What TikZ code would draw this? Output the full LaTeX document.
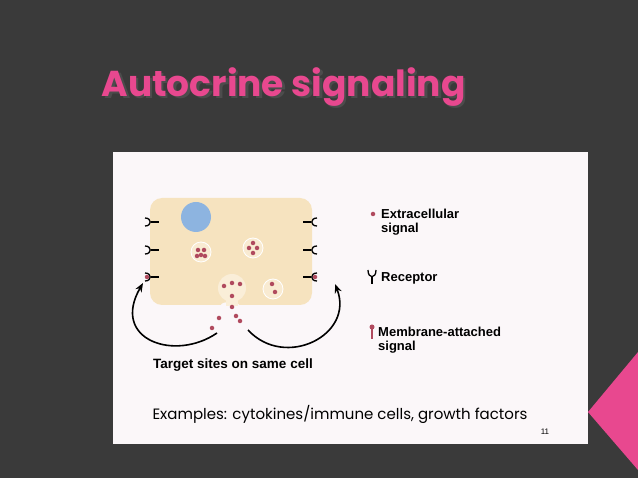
\documentclass[tikz,border=0pt]{standalone}
\usepackage{fontspec}
\setmainfont{Liberation Sans}
\newfontfamily\pop{Poppins}
\usetikzlibrary{arrows.meta}
\definecolor{bg}{HTML}{3A3A3A}
\definecolor{ttl}{HTML}{E8488F}
\definecolor{panel}{HTML}{FBF7F9}
\definecolor{cellc}{HTML}{F6E3BF}
\definecolor{dotc}{HTML}{B04A5E}
\definecolor{nuc}{HTML}{8DB4E0}
\tikzset{
 sig/.style={circle,fill=dotc,inner sep=0pt,minimum size=4.5pt},
 ves/.style={circle,draw=white,fill=cellc!70!white,line width=0.8pt,inner sep=0pt,minimum size=20pt},
 rec/.style={line width=1.3pt,black},
 lbl/.style={font=\bfseries\fontsize{13}{14}\selectfont,align=left,anchor=west,inner sep=0pt},
 arr/.style={line width=1.6pt,-{Stealth[length=9pt,width=7pt]}}
}
\begin{document}
\begin{tikzpicture}[x=1pt,y=-1pt]
\fill[bg] (0,0) rectangle (638,478);
\useasboundingbox (0,0) rectangle (638,478);
\fill[ttl] (638,352) -- (588,412) -- (638,470) -- cycle;
\node[font=\pop\bfseries\fontsize{36}{40}\selectfont,text=ttl,anchor=west] (title) at (98,88) {\rlap{\hspace{2.5pt}\raisebox{-2.5pt}{\color{black!70}Autocrine signaling}}Autocrine signaling};
\fill[panel] (113,152) rectangle (588,444);
% cell
\fill[cellc,rounded corners=12pt] (150,198) rectangle (312,305);
\fill[panel] (230,305) ellipse (9 and 3);
\fill[cellc!60!white] (232,288) circle (14);
\fill[cellc!60!white] (226,298) rectangle (238,306);
\node[circle,fill=nuc,minimum size=30pt,inner sep=0pt] (nucleus) at (196,217) {};
\node[ves] (v1) at (201,252) {};
\node[ves] (v2) at (253,248) {};
\node[ves] (v3) at (273,289) {};
\foreach \p in {(198,250),(204,250),(201,255),(197,256),(205,256)} \node[sig] at \p {};
\foreach \p in {(253,243),(249,248),(257,248),(253,253)} \node[sig] at \p {};
\foreach \p in {(272,284),(275,292)} \node[sig] at \p {};
\foreach \p in {(224,286),(232,283),(240,284),(232,296),(232,307),(236,316),(240,321),(219,318),(212,328)} \node[sig] at \p {};
% receptors
\foreach \y in {222,250,277}{
 \draw[rec] (151,\y) -- (159,\y);
 \draw[rec] (145,\y-4) .. controls (152,\y-4) and (152,\y+4) .. (145,\y+4);
 \draw[rec] (303,\y) -- (311,\y);
 \draw[rec] (317,\y-4) .. controls (310,\y-4) and (310,\y+4) .. (317,\y+4);
}
\node[sig] at (147,277) {};
\node[sig] at (315,277) {};
\coordinate (la) at (217,333);
\coordinate (lt) at (143,283);
\coordinate (ra) at (248,330);
\coordinate (rt) at (335,284);
\draw[arr] (la) .. controls (175,362) and (110,340) .. (lt);
\draw[arr] (ra) .. controls (285,370) and (355,335) .. (rt);
\node[font=\bfseries\fontsize{13.5}{15}\selectfont] (tgt) at (233,365) {Target sites on same cell};
% legend
\node[sig] (ls) at (373,214) {};
\node[lbl] (l1) at (381,222) {Extracellular\\signal};
\draw[line width=1.3pt] (368,270) .. controls (368,279) and (376,279) .. (376,270);
\draw[line width=1.3pt] (372,277) -- (372,284);
\node[lbl] (l2) at (381,278) {Receptor};
\draw[line width=1.2pt,dotc] (372,328) -- (372,339);
\fill[dotc] (372,327) circle (2.5);
\node[lbl] (l3) at (378,340) {Membrane-attached\\signal};
\node[font=\pop\fontsize{15}{18}\selectfont,anchor=west] (ex) at (149,414) {Examples: cytokines/immune cells, growth factors};
\node[font=\fontsize{8}{9}\selectfont] (pg) at (545,432) {11};
\end{tikzpicture}
\end{document}
